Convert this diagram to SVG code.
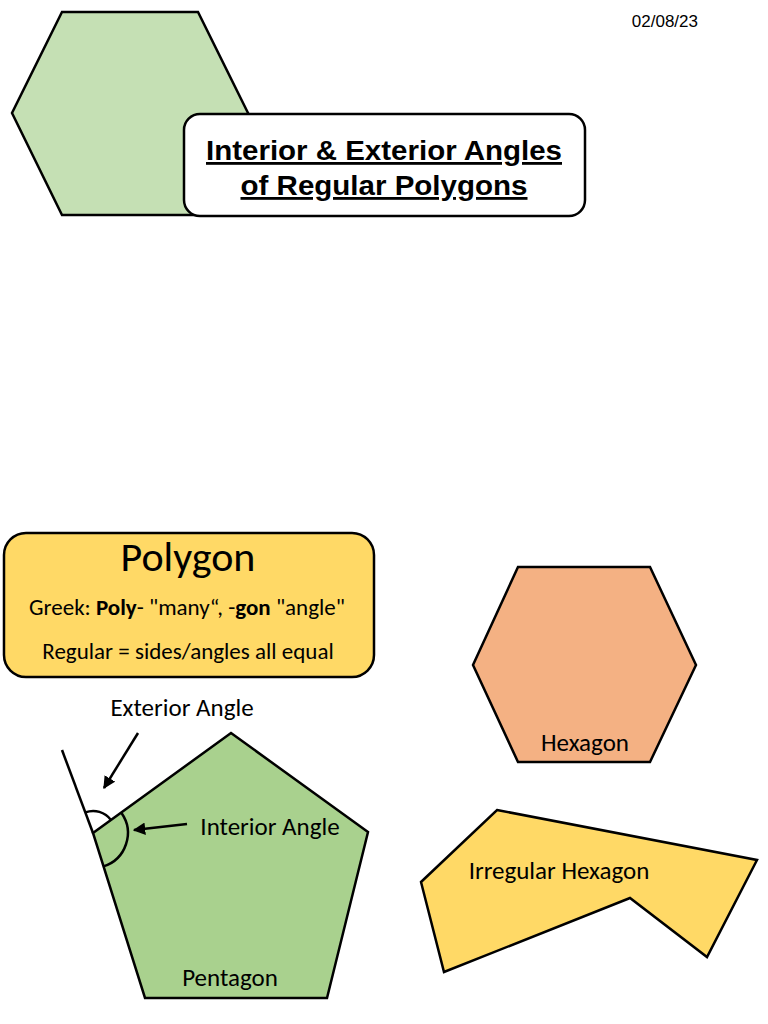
<svg xmlns="http://www.w3.org/2000/svg" width="768" height="1024" viewBox="0 0 768 1024">
<style>
.s{stroke:#000;stroke-width:2.5;}
.t{font-family:Carlito,Calibri,"Liberation Sans",sans-serif;fill:#000;}
.h{font-family:"Liberation Sans",Arial,sans-serif;font-weight:bold;font-size:28px;text-decoration:underline;fill:#000;}
</style>
<defs><marker id="a" viewBox="0 0 10 10" refX="9" refY="5" markerWidth="5" markerHeight="5" orient="auto"><path d="M0,0L10,5L0,10z"/></marker></defs>
<rect width="768" height="1024" fill="#fff"/>
<text x="698" y="27" text-anchor="end" font-family="Liberation Sans,sans-serif" font-size="17">02/08/23</text>
<g id="title-hex"><polygon class="s" fill="#C5E0B4" points="62,12 198,12 248,113 198,215 62,215 12,113"/></g>
<g id="title"><rect class="s" x="184" y="114" width="401" height="102" rx="16" fill="#fff"/>
<text class="h" x="384" y="160" text-anchor="middle" textLength="356" lengthAdjust="spacingAndGlyphs">Interior &amp; Exterior Angles</text>
<text class="h" x="384" y="195" text-anchor="middle" textLength="287" lengthAdjust="spacingAndGlyphs">of Regular Polygons</text></g>
<g id="polygon-box"><rect class="s" x="4" y="533" width="370" height="144" rx="22" fill="#FFD966"/>
<text class="t" x="188" y="571" text-anchor="middle" font-size="42">Polygon</text>
<text class="t" x="187" y="615" text-anchor="middle" font-size="23">Greek: <tspan font-weight="bold">Poly</tspan>- "many“, -<tspan font-weight="bold">gon</tspan> "angle"</text>
<text class="t" x="188" y="659" text-anchor="middle" font-size="23">Regular =  sides/angles all equal</text></g>
<g id="hexagon"><polygon class="s" fill="#F4B183" points="518,567 650,567 696,665 650,762 518,762 473,665"/>
<text class="t" x="585" y="751" text-anchor="middle" font-size="25">Hexagon</text></g>
<g id="irregular"><polygon class="s" fill="#FFD966" points="497,810 757,860 707,957 630,898 444,972 421,882"/>
<text class="t" x="559" y="879" text-anchor="middle" font-size="25">Irregular Hexagon</text></g>
<g id="pentagon"><polygon class="s" fill="#A9D18E" points="231,733 368,832 327,998 145,998 93,833"/>
<text class="t" x="230" y="986" text-anchor="middle" font-size="25">Pentagon</text>
<line class="s" x1="62" y1="750" x2="93" y2="833"/>
<path class="s" fill="none" d="M85.3,812.4 A22,22 0 0 1 111,820"/>
<path class="s" fill="none" d="M121.5,813 A35,35 0 0 1 103.5,866.4"/></g>
<g id="connectors" stroke="#000" stroke-width="2.5">
<line x1="138" y1="733" x2="104" y2="788" marker-end="url(#a)"/>
<line x1="187" y1="824" x2="134" y2="830" marker-end="url(#a)"/>
</g>
<text class="t" x="182" y="716" text-anchor="middle" font-size="25">Exterior Angle</text>
<text class="t" x="270" y="835" text-anchor="middle" font-size="25">Interior Angle</text>
</svg>
